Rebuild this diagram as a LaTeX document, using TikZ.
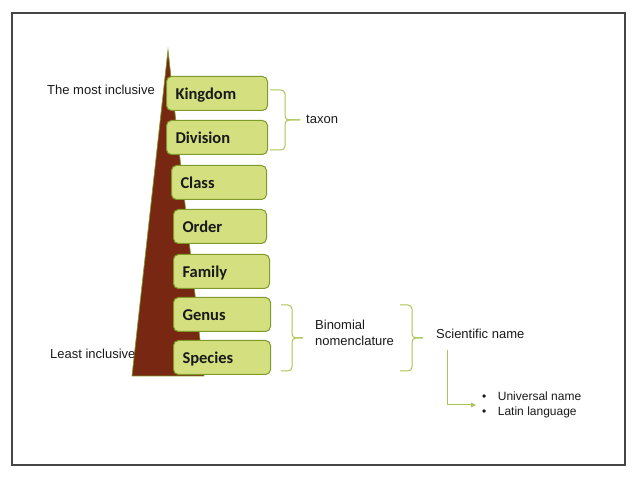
\documentclass[tikz,border=0pt]{standalone}
\usepackage{fontspec}
\setmainfont{Liberation Sans}
\newfontfamily\boxfont{Carlito}
\usetikzlibrary{arrows.meta,calc}
\definecolor{boxfill}{HTML}{D4E07F}
\definecolor{boxline}{HTML}{7F9A2A}
\definecolor{bracecol}{HTML}{A9C552}
\definecolor{trunk}{HTML}{782812}
\definecolor{framecol}{HTML}{454545}
\tikzset{
  rankbox/.style={draw=boxline, fill=boxfill, line width=1pt, rounded corners=5pt,
    anchor=north west, minimum height=34pt, inner xsep=9pt, inner ysep=0pt, align=left,
    text height=14.5pt, text depth=3pt,
    font=\boxfont\bfseries\fontsize{16.5}{18}\selectfont, text=black!90},
  bracepath/.style={draw=bracecol, line width=1pt, rounded corners=4pt},
  lbl/.style={inner sep=0pt, anchor=west, font=\fontsize{13}{16}\selectfont, text=black!90, align=left},
  arr/.style={draw=bracecol, line width=1pt, -{Triangle[length=5pt,width=4.5pt]}},
}
\begin{document}
\begin{tikzpicture}[x=1pt,y=-1pt]
\useasboundingbox (0,0) rectangle (638,478);
\draw[framecol, line width=1.2pt] (12,13) rectangle (625,465);
% tapering trunk
\filldraw[fill=trunk, draw=boxline, line width=0.7pt] (168,50) -- (204,376) -- (132,376) -- cycle;
% rank boxes
\node[rankbox, minimum width=101pt, text width=83pt] (kingdom) at (166,76) {Kingdom};
\node[rankbox, minimum width=101pt, text width=83pt] (division) at (166,120) {Division};
\node[rankbox, minimum width=95pt, text width=77pt] (class) at (171,165) {Class};
\node[rankbox, minimum width=93pt, text width=75pt] (order) at (173,209) {Order};
\node[rankbox, minimum width=96pt, text width=78pt] (family) at (173,254) {Family};
\node[rankbox, minimum width=97pt, text width=79pt] (genus) at (173,297) {Genus};
\node[rankbox, minimum width=97pt, text width=79pt] (species) at (173,340) {Species};
% side labels
\node[lbl] (most) at (47,90) {The most inclusive};
\node[lbl] (least) at (50,354) {Least inclusive};
% braces
\draw[bracepath] (270,90) -| (285,120) -- (300,120);
\draw[bracepath] (270,150) -| (285,120) -- (300,120);
\draw[bracepath] (281,305) -| (292,338) -- (303,338);
\draw[bracepath] (281,371) -| (292,338) -- (303,338);
\draw[bracepath] (400,305) -| (412,338) -- (423,338);
\draw[bracepath] (400,371) -| (412,338) -- (423,338);
% texts
\node[lbl] (taxon) at (306,119) {taxon};
\node[lbl] (binomial) at (315,333) {Binomial\\nomenclature};
\node[lbl] (sci) at (436,334) {Scientific name};
\node[lbl, font=\fontsize{12}{15}\selectfont] (bullets) at (476,405)
  {\begin{tabular}{@{\hspace{6pt}}l@{\hspace{11.5pt}}l@{}}\textbullet & Universal name\\ \textbullet & Latin language\end{tabular}};
% arrow
\coordinate (arrS) at (447,350);
\draw[arr] (arrS) |- (bullets.west);
\end{tikzpicture}
\end{document}
